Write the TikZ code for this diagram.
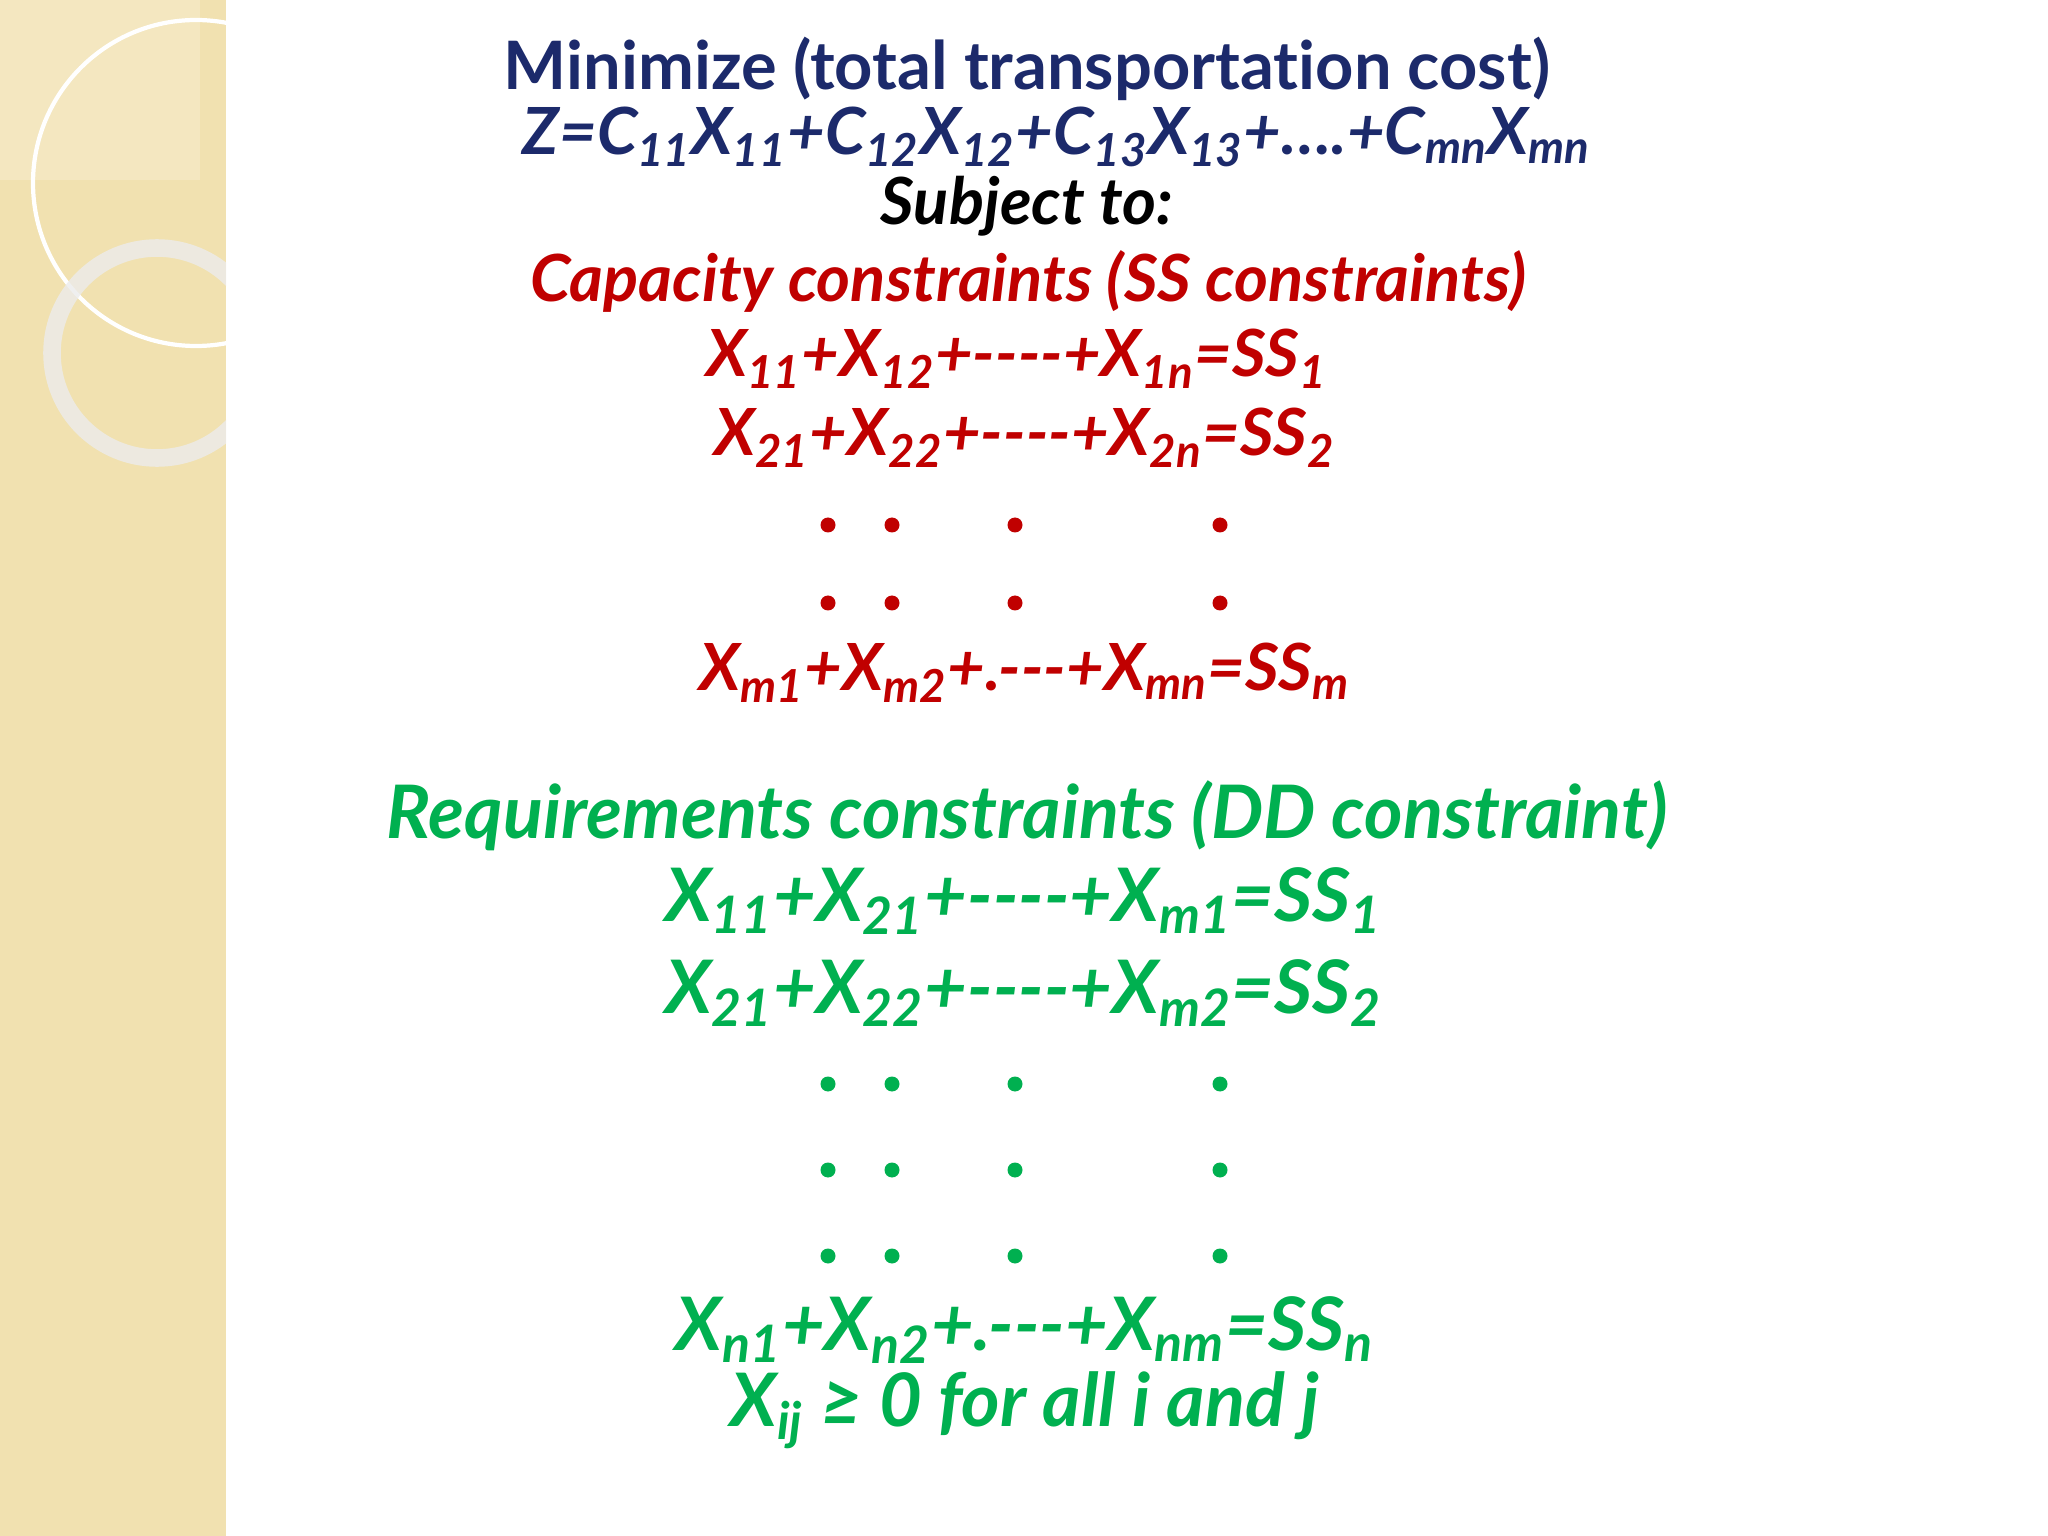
\documentclass[tikz,border=0pt]{standalone}
\usepackage{fontspec}
\setmainfont{Lato}[Ligatures={NoCommon}]
\definecolor{navy}{HTML}{1C2A6B}
\definecolor{redc}{HTML}{C00000}
\definecolor{greenc}{HTML}{00B050}
\definecolor{beige}{HTML}{F1E1B0}
\newcommand{\sbx}[1]{\textsubscript{#1}}
\newcommand{\dd}{{-}{-}{-}{-}}
\newcommand{\ddd}{{-}{-}{-}}
\tikzset{
 t/.style={anchor=center,inner sep=0pt,font=\bfseries\fontsize{19}{21}\selectfont},
 eq/.style={t,font=\bfseries\itshape\fontsize{18.5}{21}\selectfont},
 geq/.style={t,font=\bfseries\itshape\fontsize{21}{23}\selectfont,text=greenc},
 dt/.style={circle,fill=#1,inner sep=0pt,minimum size=1.5mm}
}
\begin{document}
\begin{tikzpicture}
\useasboundingbox (0,0) rectangle (20.48,-15.36);
\fill[white] (0,0) rectangle (20.48,-15.36);
\fill[beige] (0,0) rectangle (2.26,-15.36);
\begin{scope}
\clip (0,0) rectangle (2.26,-15.36);
\fill[beige!80!white] (0,0) rectangle (2.0,-1.8);
\draw[white,line width=1.2pt] (1.96,-1.83) circle (1.63);
\draw[white!85!gray,opacity=0.8,line width=5pt] (1.57,-3.53) circle (1.05);
\end{scope}
\node[t,text=navy] (a) at (10.27,-0.69) {Minimize (total transportation cost)};
\node[eq,text=navy] (b) at (10.57,-1.37) {Z=C\sbx{11}X\sbx{11}+C\sbx{12}X\sbx{12}+C\sbx{13}X\sbx{13}+….+C\sbx{mn}X\sbx{mn}};
\node[eq,text=black] (c) at (10.27,-2.06) {Subject to:};
\node[eq,text=redc] (d) at (10.28,-2.81) {Capacity constraints (SS constraints)};
\node[eq,text=redc] (e) at (10.17,-3.59) {X\sbx{11}+X\sbx{12}+\dd+X\sbx{1n}=SS\sbx{1}};
\node[eq,text=redc] (f) at (10.25,-4.38) {X\sbx{21}+X\sbx{22}+\dd+X\sbx{2n}=SS\sbx{2}};
\foreach \y [count=\i] in {-5.25,-6.03}{
 \foreach \x [count=\j] in {8.28,8.92,10.15,12.20}{
  \node[dt=redc] (r\i\j) at (\x,\y) {};}}
\node[eq,text=redc] (g) at (10.25,-6.73) {X\sbx{m1}+X\sbx{m2}+.\ddd+X\sbx{mn}=SS\sbx{m}};
\node[geq] (h) at (10.27,-8.16) {Requirements constraints (DD constraint)};
\node[geq] (i) at (10.24,-9.01) {X\sbx{11}+X\sbx{21}+\dd+X\sbx{m1}=SS\sbx{1}};
\node[geq] (j) at (10.24,-9.93) {X\sbx{21}+X\sbx{22}+\dd+X\sbx{m2}=SS\sbx{2}};
\foreach \y [count=\i] in {-10.84,-11.70,-12.56}{
 \foreach \x [count=\j] in {8.28,8.92,10.15,12.20}{
  \node[dt=greenc] (g\i\j) at (\x,\y) {};}}
\node[geq] (k) at (10.25,-13.30) {X\sbx{n1}+X\sbx{n2}+.\ddd+X\sbx{nm}=SS\sbx{n}};
\node[geq] (l) at (10.25,-14.10) {X\sbx{ij} ≥ 0 for all i and j};
\end{tikzpicture}
\end{document}
